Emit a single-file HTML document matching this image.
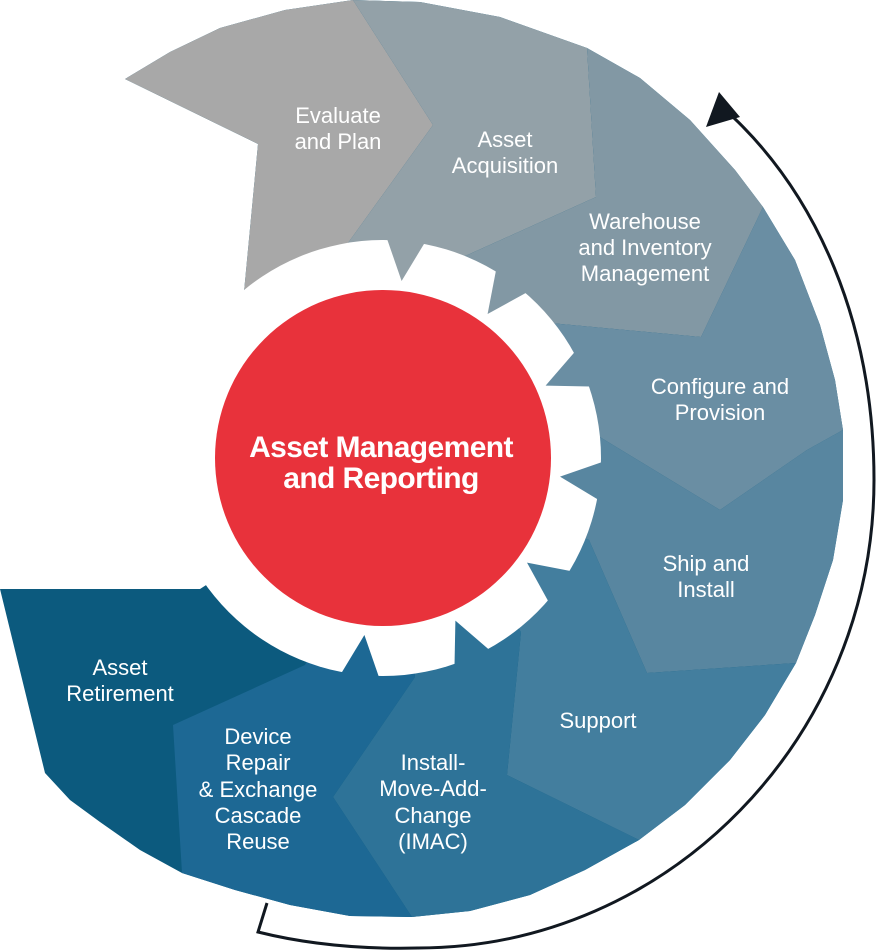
<!DOCTYPE html>
<html><head><meta charset="utf-8"><style>
html,body{margin:0;padding:0;background:#fff;overflow:hidden;}
svg{display:block;}
text{font-family:"Liberation Sans",sans-serif;fill:#fff;text-anchor:middle;}
.l{font-size:22px;}
.c{font-size:30px;font-weight:bold;letter-spacing:-0.6px;}
</style></head><body>
<svg width="879" height="951" viewBox="0 0 879 951" xmlns="http://www.w3.org/2000/svg">
<defs>
<clipPath id="outer">
<polygon points="125,79 170,52 220,28 285,10 353,0 420,2 500,17 587,48 640,78 690,120 735,170 763,207 795,260 820,325 835,380 843,430 843,500 833,560 815,615 796,663 765,715 730,760 685,805 639,840 585,870 530,895 470,911 412,917 350,916 290,905 235,890 182,873 140,850 100,822 70,800 45,773 0,589 200,589 400,460 244,292 258,144"/>
</clipPath>
<mask id="gm">
<rect x="0" y="0" width="879" height="951" fill="black"/>
<circle cx="383" cy="458" r="218" fill="white"/>
<polygon points="385,233 401.6,281 427.9,237.5" fill="black"/>
<polygon points="497.2,264.1 487.6,314 532.1,289.5" fill="black"/>
<polygon points="578.8,347.2 545.6,385.6 596.4,386.6" fill="black"/>
<polygon points="608,460 560,476.6 603.5,502.9" fill="black"/>
<polygon points="576.9,572.2 527,562.6 551.5,607.1" fill="black"/>
<polygon points="493.8,653.8 455.4,620.6 454.4,671.4" fill="black"/>
<polygon points="381,683 364.4,635 338.1,678.5" fill="black"/>
</mask>
</defs>
<g clip-path="url(#outer)">
<rect x="0" y="0" width="879" height="951" fill="#0c5a7e"/>
<polygon points="400,460 348,243 433,125 353,0 330,-40 60,-40 60,460" fill="#a8a8a8"/>
<polygon points="400,460 348,243 433,125 353,0 330,-40 585,-40 587,48 596,197 463,257" fill="#93a1a8"/>
<polygon points="400,460 463,257 596,197 587,48 585,-40 830,100 763,207 701,337 550,323" fill="#8298a4"/>
<polygon points="400,460 550,323 701,337 763,207 830,100 950,400 843,430 807,450 720,510 580,425" fill="#6a8ea3"/>
<polygon points="400,460 580,425 720,510 807,450 843,430 950,400 900,660 796,663 647,673 589,540" fill="#5886a0"/>
<polygon points="400,460 589,540 647,673 796,663 900,660 720,930 639,840 507,775 521,632" fill="#437e9e"/>
<polygon points="400,460 521,632 507,775 639,840 720,930 420,1000 412,917 333,797 415,677" fill="#2e7398"/>
<polygon points="400,460 415,677 333,797 412,917 420,1000 185,1000 182,873 173,725 305,665" fill="#1d6894"/>
</g>
<rect x="0" y="0" width="879" height="951" fill="#fff" mask="url(#gm)"/>
<circle cx="383" cy="458" r="168" fill="#e8323b"/>
<path d="M267,903 L258,932 Q330,950 418,948 C669,948 874,737 874,480 C874,320 815,195 733,117" fill="none" stroke="#111820" stroke-width="3"/>
<polygon points="719,92 706,127 740,117" fill="#111820"/>
<text class="c" x="381" y="457">Asset Management</text>
<text class="c" x="381" y="488">and Reporting</text>
<text class="l" x="338" y="123">Evaluate</text>
<text class="l" x="338" y="149">and Plan</text>
<text class="l" x="505" y="147">Asset</text>
<text class="l" x="505" y="173">Acquisition</text>
<text class="l" x="645" y="229">Warehouse</text>
<text class="l" x="645" y="255">and Inventory</text>
<text class="l" x="645" y="281">Management</text>
<text class="l" x="720" y="394">Configure and</text>
<text class="l" x="720" y="420">Provision</text>
<text class="l" x="706" y="571">Ship and</text>
<text class="l" x="706" y="597">Install</text>
<text class="l" x="598" y="728">Support</text>
<text class="l" x="433" y="770">Install-</text>
<text class="l" x="433" y="796">Move-Add-</text>
<text class="l" x="433" y="823">Change</text>
<text class="l" x="433" y="849">(IMAC)</text>
<text class="l" x="258" y="744">Device</text>
<text class="l" x="258" y="770">Repair</text>
<text class="l" x="258" y="797">&amp; Exchange</text>
<text class="l" x="258" y="823">Cascade</text>
<text class="l" x="258" y="849">Reuse</text>
<text class="l" x="120" y="675">Asset</text>
<text class="l" x="120" y="701">Retirement</text>
</svg>
</body></html>
